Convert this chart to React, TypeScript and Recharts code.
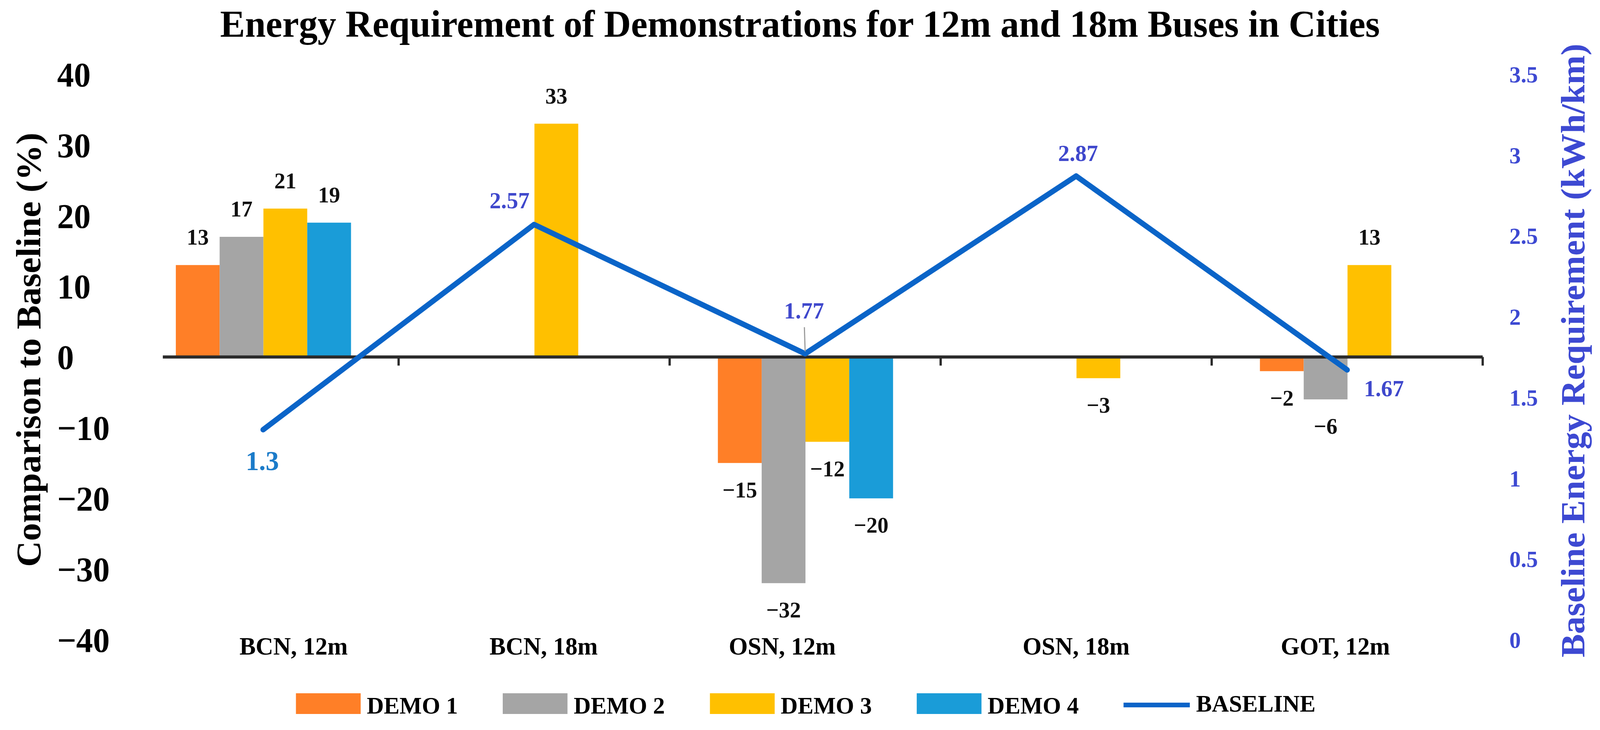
import React from "react"
import { ComposedChart, Bar, Line, XAxis, YAxis, ReferenceLine, Legend, LabelList } from "recharts"

const categories = ["BCN, 12m", "BCN, 18m", "OSN, 12m", "OSN, 18m", "GOT, 12m"]
const demo1 = [13, null, -15, null, -2]
const demo2 = [17, null, -32, null, -6]
const demo3 = [21, 33, -12, -3, 13]
const demo4 = [19, null, -20, null, null]
const baseline = [1.3, 2.57, 1.77, 2.87, 1.67]
const leftTicks = [-40, -30, -20, -10, 0, 10, 20, 30, 40]
const rightTicks = [0, 0.5, 1, 1.5, 2, 2.5, 3, 3.5]

const data = categories.map((city, i) => ({
  city,
  demo1: demo1[i],
  demo2: demo2[i],
  demo3: demo3[i],
  demo4: demo4[i],
  baseline: baseline[i],
}))

const W = 4201
const H = 1868
const SERIF = "'Liberation Serif', 'Times New Roman', serif"
const LINE_COLOR = "#0A64C8"
const AXIS_BLUE = "#3D49D2"

const barSeries = [
  { key: "demo1", name: "DEMO 1", color: "#FF7F27" },
  { key: "demo2", name: "DEMO 2", color: "#A5A5A5" },
  { key: "demo3", name: "DEMO 3", color: "#FFC000" },
  { key: "demo4", name: "DEMO 4", color: "#1A9CD8" },
]

// category labels are not quite centred under their groups in the original
const cityLabelShift = [80, 25, -60, 0, -31]

// where each baseline value label sits relative to its point
const lineLabelPlacement = [
  { dx: -2, dy: 103, anchor: "middle", size: 70, color: "#1B7BC9" },
  { dx: -12, dy: -41, anchor: "end", size: 60, color: "#3F48CC" },
  { dx: -3, dy: -90, anchor: "middle", size: 60, color: "#3F48CC", leader: true },
  { dx: 5, dy: -38, anchor: "middle", size: 60, color: "#3F48CC" },
  { dx: 44, dy: 67, anchor: "start", size: 60, color: "#3F48CC" },
]

const fmtLeft = (v: number) => (v < 0 ? `\u2212${Math.abs(v)}` : `${v}`)

const box = (props: any) => {
  const vb = props.viewBox || {}
  return {
    x: vb.x ?? props.x,
    y: vb.y ?? props.y,
    width: vb.width ?? props.width ?? 0,
    height: vb.height ?? props.height ?? 0,
  }
}

const BarValue = (props: any) => {
  const { value } = props
  if (value === null || value === undefined) return null
  const { x, y, width, height } = box(props)
  const top = Math.min(y, y + height)
  const bottom = Math.max(y, y + height)
  const ty = value >= 0 ? top - 52 : bottom + 88
  return (
    <text x={x + width / 2} y={ty} textAnchor="middle" fontFamily={SERIF} fontWeight="bold" fontSize={58} fill="#111">
      {fmtLeft(value)}
    </text>
  )
}

const LineValue = (props: any) => {
  const { value, index } = props
  const { x, y } = box(props)
  const p = lineLabelPlacement[index] || lineLabelPlacement[0]
  return (
    <g>
      {p.leader && <line x1={x - 2} y1={y - 68} x2={x} y2={y - 6} stroke="#9A9A9A" strokeWidth={3} />}
      <text x={x + p.dx} y={y + p.dy} textAnchor={p.anchor} fontFamily={SERIF} fontWeight="bold" fontSize={p.size} fill={p.color}>
        {value}
      </text>
    </g>
  )
}

const LeftTick = ({ x, y, payload }: any) => (
  <text x={x} y={y} dy="0.35em" textAnchor="start" fontFamily={SERIF} fontWeight="bold" fontSize={88} fill="#000">
    {fmtLeft(payload.value)}
  </text>
)

const RightTick = ({ x, y, payload }: any) => (
  <text x={x} y={y} dy="0.35em" textAnchor="start" fontFamily={SERIF} fontWeight="bold" fontSize={60} fill={AXIS_BLUE}>
    {payload.value}
  </text>
)

const CityTick = ({ x, y, payload, index }: any) => (
  <text
    x={x + (cityLabelShift[index] ?? 0)}
    y={y + 38}
    textAnchor="middle"
    fontFamily={SERIF}
    fontWeight="bold"
    fontSize={64}
    fill="#000"
  >
    {payload.value}
  </text>
)

const VerticalTitle = ({ text, cx, cy, color, size }: any) => (
  <text
    x={cx}
    y={cy}
    transform={`rotate(-90, ${cx}, ${cy})`}
    textAnchor="middle"
    dominantBaseline="central"
    fontFamily={SERIF}
    fontWeight="bold"
    fontSize={size}
    fill={color}
  >
    {text}
  </text>
)

// zero line with small ticks between the categories
const ZeroAxis = (props: any) => {
  const { x1, x2, y1 } = props
  const band = (x2 - x1) / categories.length
  const ticks = categories.map((_, i) => x1 + band * (i + 1))
  return (
    <g stroke="#2A2A2A">
      <line x1={x1 + band * 0.13} x2={x2} y1={y1} y2={y1} strokeWidth={8} />
      {ticks.map((tx) => (
        <line key={tx} x1={tx} x2={tx} y1={y1} y2={y1 + 22} strokeWidth={6} />
      ))}
    </g>
  )
}

const LegendContent = () => (
  <div
    style={{
      display: "flex",
      justifyContent: "center",
      alignItems: "center",
      gap: 118,
      height: 80,
      paddingLeft: 30,
      fontFamily: SERIF,
      fontWeight: "bold",
      fontSize: 62,
      color: "#000",
    }}
  >
    {barSeries.map((s) => (
      <div key={s.key} style={{ display: "flex", alignItems: "center", gap: 16 }}>
        <span style={{ display: "inline-block", width: 170, height: 53, background: s.color }} />
        <span style={{ lineHeight: "62px", paddingTop: 10 }}>{s.name}</span>
      </div>
    ))}
    <div style={{ display: "flex", alignItems: "center", gap: 16 }}>
      <span style={{ display: "inline-block", width: 174, height: 12, background: LINE_COLOR, marginTop: 8 }} />
      <span style={{ lineHeight: "62px" }}>BASELINE</span>
    </div>
  </div>
)

// the visible page can be narrower than the requested window; fit the full figure into it
const viewW = (typeof document !== "undefined" && document.documentElement.clientWidth) || W
const viewH = (typeof document !== "undefined" && document.documentElement.clientHeight) || H
const sx = viewW / W
const sy = viewH / H

export default function App() {
  return (
    <div style={{ position: "fixed", left: 0, top: 0, width: "100vw", height: "100vh", overflow: "hidden", background: "#fff" }}>
      <div
        style={{
          position: "absolute",
          left: 0,
          top: 0,
          width: W,
          height: H,
          background: "#fff",
          transform: `scale(${sx}, ${sy})`,
          transformOrigin: "0 0",
        }}
      >
        <div
          style={{
            position: "absolute",
            left: 0,
            top: 12,
            width: W,
            textAlign: "center",
            fontFamily: SERIF,
            fontWeight: "bold",
            fontSize: 98,
            lineHeight: "98px",
            color: "#000",
          }}
        >
          Energy Requirement of Demonstrations for 12m and 18m Buses in Cities
        </div>
        <ComposedChart
          width={W}
          height={H}
          data={data}
          margin={{ top: 190, right: 0, bottom: 28, left: 0 }}
          barCategoryGap="17.8%"
          barGap={0}
        >
          <XAxis
            dataKey="city"
            height={123}
            axisLine={false}
            tickLine={false}
            tickSize={0}
            tickMargin={0}
            interval={0}
            tick={<CityTick />}
          />
          <YAxis
            yAxisId="left"
            orientation="left"
            width={335}
            domain={[-40, 40]}
            ticks={leftTicks}
            interval={0}
            axisLine={false}
            tickLine={false}
            tickSize={0}
            tickMargin={185}
            tick={<LeftTick />}
          />
          <YAxis
            yAxisId="right"
            orientation="right"
            width={308}
            domain={[0, 3.5]}
            ticks={rightTicks}
            interval={0}
            axisLine={false}
            tickLine={false}
            tickSize={0}
            tickMargin={70}
            tick={<RightTick />}
          />
          <Legend verticalAlign="bottom" content={<LegendContent />} />
          {barSeries.map((s) => (
            <Bar key={s.key} dataKey={s.key} name={s.name} yAxisId="left" fill={s.color} isAnimationActive={false}>
              <LabelList dataKey={s.key} content={<BarValue />} />
            </Bar>
          ))}
          <ReferenceLine y={0} yAxisId="left" shape={<ZeroAxis />} />
          <Line
            dataKey="baseline"
            name="BASELINE"
            yAxisId="right"
            type="linear"
            stroke={LINE_COLOR}
            strokeWidth={14}
            strokeLinecap="round"
            strokeLinejoin="round"
            dot={false}
            activeDot={false}
            isAnimationActive={false}
          >
            <LabelList dataKey="baseline" content={<LineValue />} />
          </Line>
        </ComposedChart>
        <svg width={W} height={H} style={{ position: "absolute", left: 0, top: 0, pointerEvents: "none" }}>
          <VerticalTitle text="Comparison to Baseline (%)" cx={75} cy={895} color="#000" size={92} />
          <VerticalTitle text="Baseline Energy Requirement (kWh/km)" cx={4130} cy={897} color={AXIS_BLUE} size={90} />
        </svg>
      </div>
    </div>
  )
}
